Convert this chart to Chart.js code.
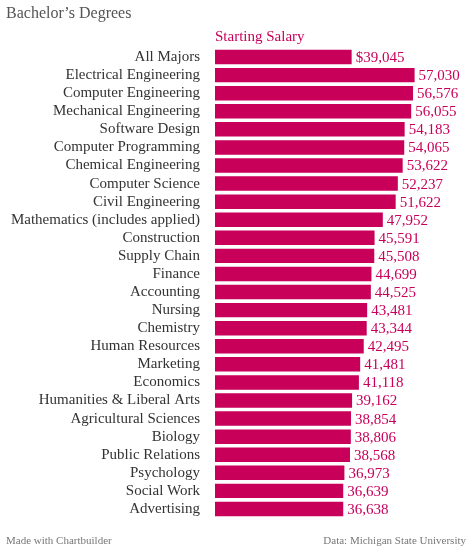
<!DOCTYPE html>
<html><head><meta charset="utf-8">
<script src="https://cdn.jsdelivr.net/npm/chart.js@4"></script>
<style>
html,body{margin:0;padding:0;background:#fff;width:474px;height:549px;overflow:hidden;font-family:"Liberation Serif",serif;}
#wrap{position:absolute;left:0;top:0;width:474px;height:549px;}
.t{position:absolute;color:#555;}
</style></head><body>
<div id="wrap"><canvas id="c"></canvas></div>
<div class="t" style="left:6px;top:4px;font-size:16px;">Bachelor’s Degrees</div>
<div class="t" style="left:215px;top:28px;font-size:15px;color:#c8005a;">Starting Salary</div>
<div class="t" style="left:6px;top:534px;font-size:11px;color:#777;">Made with Chartbuilder</div>
<div class="t" style="right:8px;top:534px;font-size:11px;color:#777;">Data: Michigan State University</div>
<script>
const categories=["All Majors","Electrical Engineering","Computer Engineering","Mechanical Engineering","Software Design","Computer Programming","Chemical Engineering","Computer Science","Civil Engineering","Mathematics (includes applied)","Construction","Supply Chain","Finance","Accounting","Nursing","Chemistry","Human Resources","Marketing","Economics","Humanities & Liberal Arts","Agricultural Sciences","Biology","Public Relations","Psychology","Social Work","Advertising"];
const salaries=[39045,57030,56576,56055,54183,54065,53622,52237,51622,47952,45591,45508,44699,44525,43481,43344,42495,41481,41118,39162,38854,38806,38568,36973,36639,36638];
const PINK="#c8005a";
const labelPlugin={id:"vals",afterDatasetsDraw(chart){
 const ctx=chart.ctx;const meta=chart.getDatasetMeta(0);
 ctx.save();ctx.fillStyle=PINK;ctx.font="15px 'Liberation Serif'";ctx.textBaseline="middle";
 meta.data.forEach((b,i)=>{const v=salaries[i];const s=(i===0?"$":"")+v.toLocaleString("en-US");ctx.fillText(s,b.x+4,b.y+1);});
 ctx.restore();}};
new Chart(document.getElementById("c"),{type:"bar",
 data:{labels:categories,datasets:[{data:salaries,backgroundColor:PINK,barPercentage:0.8,categoryPercentage:1}]},
 options:{indexAxis:"y",responsive:true,maintainAspectRatio:false,animation:false,
  layout:{padding:{left:0,right:0,top:48,bottom:31}},
  plugins:{legend:{display:false},tooltip:{enabled:false}},
  scales:{
   x:{display:false,min:0,max:74000},
   y:{grid:{display:false},border:{display:false},
      ticks:{color:"#333",font:{family:"Liberation Serif",size:15},padding:7,autoSkip:false},
      afterFit(s){s.width=215;}}
  }},plugins:[labelPlugin]});
</script></body></html>
